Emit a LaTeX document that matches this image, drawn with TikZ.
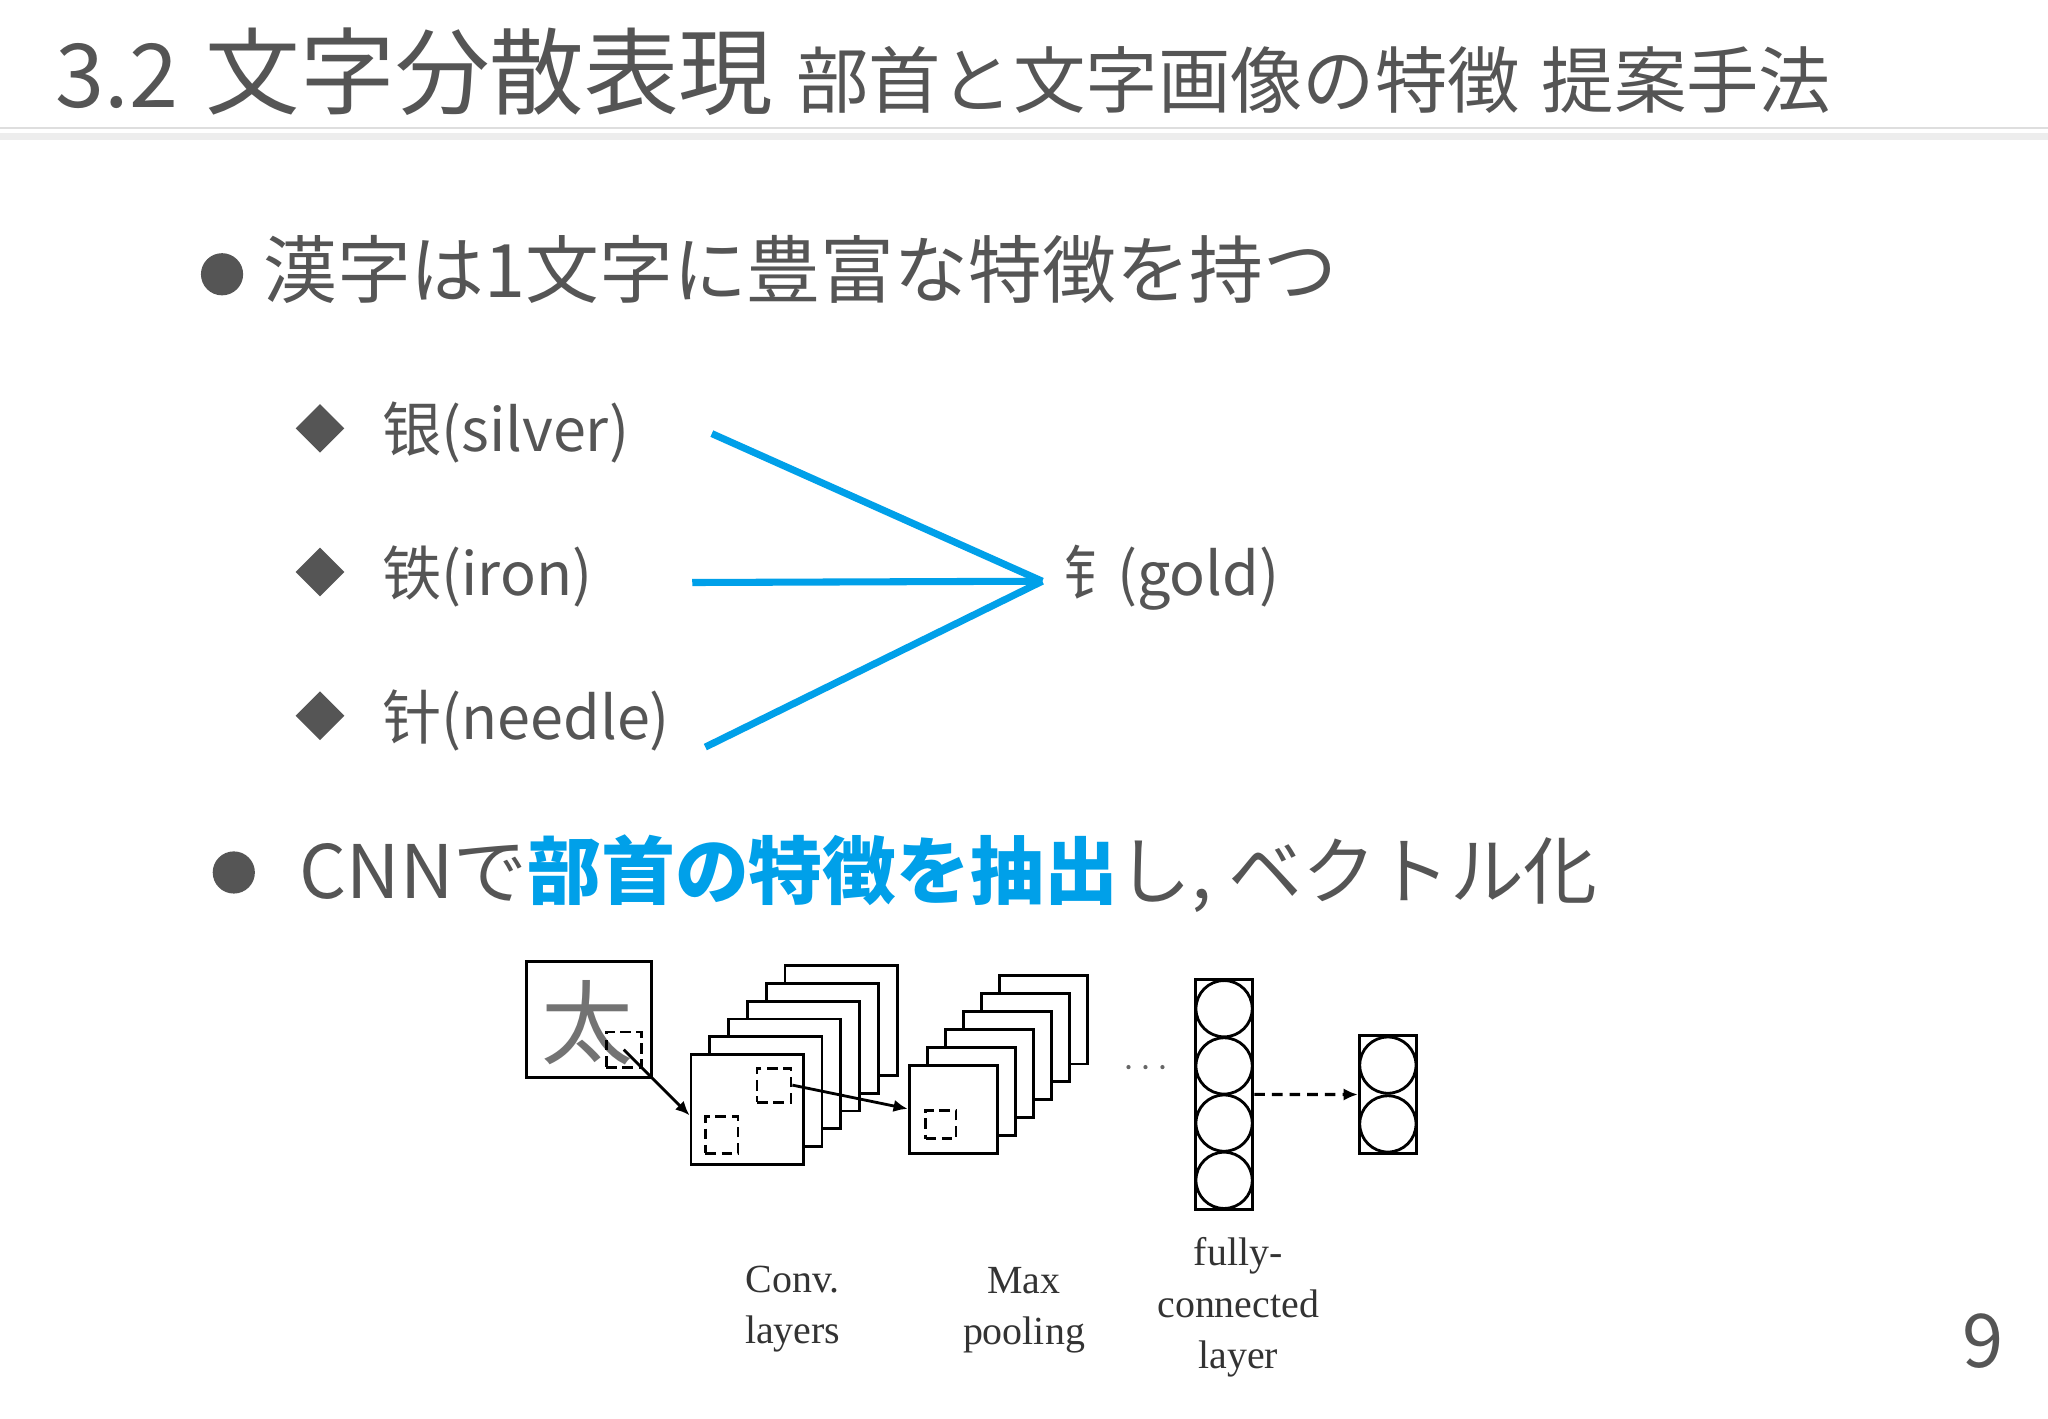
\documentclass[tikz,border=0pt]{standalone}
\usepackage{fontspec}
\setmainfont{Noto Sans CJK JP}
\newfontfamily\figfont{Liberation Serif}
\usetikzlibrary{arrows.meta,positioning,shapes.geometric}
\definecolor{tinta}{RGB}{85,85,85}
\definecolor{celeste}{RGB}{0,160,233}
\definecolor{linea}{RGB}{222,222,222}
\tikzset{
  txt/.style={anchor=base west, inner sep=0pt, text=tinta},
  tit/.style={txt, font=\fontsize{25}{30}\selectfont},
  subt/.style={txt, font=\fontsize{20.5}{24}\selectfont},
  punto/.style={txt, font=\fontsize{20.9}{24}\selectfont},
  subpunto/.style={txt, font=\fontsize{16.8}{22}\selectfont},
  bola/.style={circle, fill=tinta, minimum size=4.2mm, inner sep=0pt},
  rombo/.style={diamond, fill=tinta, minimum width=4.9mm, minimum height=4.9mm, inner sep=0pt},
  enl/.style={line width=2pt, celeste},
  capa/.style={draw, fill=white, line width=0.8pt, inner sep=0pt},
  parche/.style={draw, dash pattern=on 3pt off 1.6pt, line width=0.8pt, inner sep=0pt},
  neur/.style={circle, draw, line width=0.8pt, minimum size=5.6mm, inner sep=0pt},
  fl/.style={-{Latex[length=4pt,width=3.5pt]}, line width=0.8pt},
  et/.style={font=\figfont\fontsize{11.3}{14.5}\selectfont, align=center, text=black!80},
}

\begin{document}
\begin{tikzpicture}[x=0.13mm, y=-0.13mm]
  \fill[white] (0,0) rectangle (1568,1086.1);
  \useasboundingbox (0,0) rectangle (1568,1086.1);
  % cabecera
  \node[tit] (num) at (42,82) {3.2};
  \node[tit, font=\fontsize{26.8}{30}\selectfont] (tit) at (157,82) {文字分散表現};
  \node[subt] (subt) at (609,82) {部首と文字画像の特徴\hspace{0.3em}提案手法};
  \draw[linea, line width=0.6pt] (0,98) -- (1568,98);
  \fill[gray!14] (0,102) rectangle (1568,107);
  % primer punto
  \node[bola] (b1) at (170,210) {};
  \node[punto] (p1) at (201,228) {漢字は1文字に豊富な特徴を持つ};
  \node[rombo] (r1) at (245,328) {};
  \node[rombo] (r2) at (245,438) {};
  \node[rombo] (r3) at (245,548) {};
  \node[subpunto] (ag) at (292,346) {银(silver)};
  \node[subpunto] (fe) at (292,456) {铁(iron)};
  \node[subpunto] (zh) at (292,566) {针(needle)};
  \node[subpunto] (oro) at (814,456) {钅\hspace{-0.1em}(gold)};
  \coordinate (a1) at (545,332);
  \coordinate (a2) at (530,446);
  \coordinate (a3) at (540,572);
  \coordinate (hub) at (798,445);
  \draw[enl] (a1) -- (hub);
  \draw[enl] (a2) -- (hub);
  \draw[enl] (a3) -- (hub);
  % segundo punto
  \node[bola] (b2) at (179,668) {};
  \node[punto] (p2) at (229,688) {CNNで{\bfseries\color{celeste}部首の特徴を抽出}し, ベクトル化};
  % red
  \node[capa, minimum width=12.48mm, minimum height=11.57mm] (img) at (451,780.5) {};
  \node[text=black!55, inner sep=0pt, font=\fontsize{26}{26}\selectfont] (tai) at (450,783) {太};
  \node[parche, minimum size=3.51mm] (ps0) at (477.6,803.6) {};
  \foreach \k in {5,4,...,0}
    \node[capa, minimum width=11.18mm, minimum height=10.92mm] (conv\k) at ({572+14.4*\k},{849.4-13.6*\k}) {};
  \node[parche, minimum width=3.25mm, minimum height=3.64mm] (ps1) at (552.5,869) {};
  \node[parche, minimum size=3.38mm] (ps2) at (592.6,830.8) {};
  \foreach \k in {5,4,...,0}
    \node[capa, minimum size=8.78mm] (pool\k) at ({729.8+13.8*\k},{849.3-13.7*\k}) {};
  \node[parche, minimum width=3.04mm, minimum height=2.82mm] (ps3) at (720.3,860.9) {};
  \foreach \i in {0,1,2}
    \fill[black!60] ({864+13*\i},817) circle (0.6pt);
  \node[capa, minimum width=5.72mm, minimum height=22.88mm] (fc) at (937.2,837.9) {};
  \foreach \i in {0,...,3}
    \node[neur] (fc\i) at (937.2,{772.3+43.8*\i}) {};
  \node[capa, minimum width=5.72mm, minimum height=11.7mm] (sal) at (1062.6,838) {};
  \node[neur] (sal0) at (1062.6,815.5) {};
  \node[neur] (sal1) at (1062.6,860.5) {};
  \draw[fl] (ps0.center) -- (conv0.west |- ps1.north);
  \draw[fl] (ps2.east) -- (pool0.west |- ps3.north);
  \draw[fl, dash pattern=on 3pt off 2pt, line width=0.9pt] (fc.east) -- (sal.west);
  \node[et] (l1) at (607,1002) {Conv.\\layers};
  \node[et] (l2) at (784,1003) {Max\\pooling};
  \node[et] (l3) at (948,1001) {fully-\\connected\\layer};
  % pagina
  \node[txt, anchor=base, font=\fontsize{21}{24}\selectfont] (pag) at (1518,1047) {9};
\end{tikzpicture}
\end{document}
